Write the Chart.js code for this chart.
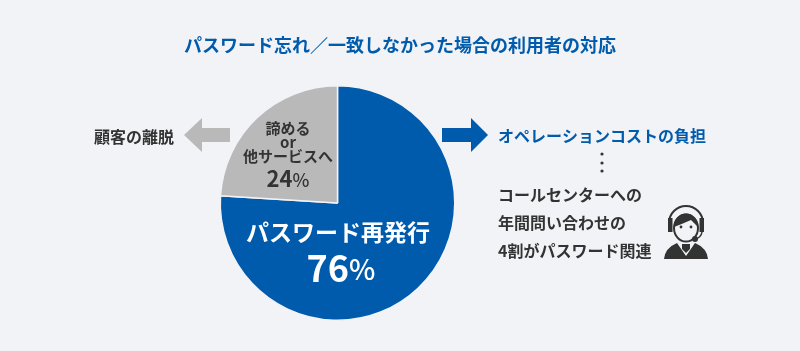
<!DOCTYPE html>
<html lang="ja">
<head>
<meta charset="utf-8">
<script src="https://cdn.jsdelivr.net/npm/chart.js@4/dist/chart.umd.min.js"></script>
<style>
html, body { margin: 0; padding: 0; background: #f1f3f6; }
#box { width: 800px; height: 351px; }
</style>
</head>
<body>
<div id="box"><canvas id="pieChart"></canvas></div>
<script>
const titleText = 'パスワード忘れ／一致しなかった場合の利用者の対応';
const categories = ['パスワード再発行', '諦める or 他サービスへ'];
const shares = [76, 24];
const sliceColors = ['#005bac', '#b9b9b9'];
const callCenterLines = ['コールセンターへの', '年間問い合わせの', '4割がパスワード関連'];

const BLUE = '#005bac', DARK = '#333333', GREY = '#b9b9b9', BG = '#f1f3f6';
const JP = '"Noto Sans CJK JP", "Noto Sans", sans-serif';

function label(ctx, text, x, y, size, color, align, weight) {
	ctx.font = (weight || 'bold') + ' ' + size + 'px ' + JP;
	ctx.fillStyle = color;
	ctx.textAlign = align || 'center';
	ctx.textBaseline = 'middle';
	ctx.fillText(text, x, y);
}

// 数字と%の大きさが違うラベル
function percent(ctx, value, x, y, numSize, pctSize, color) {
	ctx.font = 'bold ' + numSize + 'px ' + JP;
	const w1 = ctx.measureText(value).width;
	ctx.font = '500 ' + pctSize + 'px ' + JP;
	const w2 = ctx.measureText('%').width;
	const left = x - (w1 + w2) / 2;
	label(ctx, String(value), left, y, numSize, color, 'left');
	label(ctx, '%', left + w1, y + 1, pctSize, color, 'left', '500');
}

function arrow(ctx, tipX, baseX, endX, y, color) {
	ctx.fillStyle = color;
	ctx.beginPath();
	ctx.moveTo(tipX, y);
	ctx.lineTo(baseX, y - 17);
	ctx.lineTo(baseX, y - 7);
	ctx.lineTo(endX, y - 7);
	ctx.lineTo(endX, y + 7);
	ctx.lineTo(baseX, y + 7);
	ctx.lineTo(baseX, y + 17);
	ctx.closePath();
	ctx.fill();
}

function operator(ctx) {
	const cx = 686;
	ctx.fillStyle = DARK;
	ctx.strokeStyle = DARK;
	// ヘッドセット
	ctx.lineWidth = 2;
	ctx.beginPath();
	ctx.arc(cx, 223, 17, Math.PI, 0);
	ctx.stroke();
	ctx.fillRect(cx - 18, 218, 4.5, 14);
	ctx.fillRect(cx + 13.5, 218, 4.5, 14);
	ctx.lineWidth = 1.5;
	ctx.beginPath();
	ctx.moveTo(cx + 16, 232);
	ctx.quadraticCurveTo(cx + 15, 238, cx + 9, 239);
	ctx.stroke();
	ctx.beginPath();
	ctx.arc(cx + 9, 239, 3, 0, Math.PI * 2);
	ctx.fill();
	// 顔
	ctx.lineWidth = 2;
	ctx.beginPath();
	ctx.ellipse(cx, 228, 12, 13.5, 0, 0, Math.PI * 2);
	ctx.stroke();
	// 髪
	ctx.beginPath();
	ctx.moveTo(cx - 12, 227);
	ctx.bezierCurveTo(cx - 12, 209, cx + 12, 209, cx + 12, 227);
	ctx.quadraticCurveTo(cx + 8, 223, cx + 5, 220);
	ctx.quadraticCurveTo(cx - 4, 224, cx - 12, 227);
	ctx.fill();
	// 目
	[-5, 5].forEach(dx => {
		ctx.beginPath();
		ctx.arc(cx + dx, 227, 1.4, 0, Math.PI * 2);
		ctx.fill();
	});
	// 体
	ctx.beginPath();
	ctx.moveTo(cx - 22, 259);
	ctx.quadraticCurveTo(cx - 21, 248, cx - 9, 243);
	ctx.lineTo(cx, 256);
	ctx.lineTo(cx + 9, 243);
	ctx.quadraticCurveTo(cx + 21, 248, cx + 22, 259);
	ctx.closePath();
	ctx.fill();
	// ネクタイ
	ctx.beginPath();
	ctx.moveTo(cx - 4, 244);
	ctx.lineTo(cx + 4, 244);
	ctx.lineTo(cx + 4, 249);
	ctx.lineTo(cx, 253);
	ctx.lineTo(cx - 4, 249);
	ctx.closePath();
	ctx.fill();
}

const notes = {
	id: 'notes',
	afterDraw(chart) {
		const ctx = chart.ctx;
		ctx.save();
		label(ctx, titleText, 400, 45, 18, BLUE);
		// 円の中
		label(ctx, '諦める', 288, 128, 15, DARK);
		label(ctx, 'or', 288, 142, 15, DARK);
		label(ctx, '他サービスへ', 288, 156, 15, DARK);
		percent(ctx, shares[1], 288, 179, 22, 18, DARK);
		label(ctx, categories[0], 338, 232, 23, '#ffffff');
		percent(ctx, shares[0], 341, 268, 36, 28, '#ffffff');
		// 左側
		arrow(ctx, 184, 202, 230, 135, GREY);
		label(ctx, '顧客の離脱', 94, 137, 16, DARK, 'left');
		// 右側
		arrow(ctx, 488, 471, 442, 135, BLUE);
		label(ctx, 'オペレーションコストの負担', 498, 136, 16, BLUE, 'left');
		ctx.fillStyle = DARK;
		[154, 163, 171].forEach(y => {
			ctx.beginPath();
			ctx.arc(602, y, 1.6, 0, Math.PI * 2);
			ctx.fill();
		});
		callCenterLines.forEach((line, i) => {
			label(ctx, line, 498, 195 + i * 28, 16, DARK, 'left');
		});
		operator(ctx);
		ctx.restore();
	}
};

new Chart(document.getElementById('pieChart'), {
	type: 'pie',
	data: {
		labels: categories,
		datasets: [{
			data: shares,
			backgroundColor: sliceColors,
			borderColor: BG,
			borderWidth: 1.5
		}]
	},
	options: {
		responsive: true,
		maintainAspectRatio: false,
		animation: false,
		layout: { padding: { left: 219, right: 344, top: 85, bottom: 30 } },
		plugins: {
			legend: { display: false },
			tooltip: { enabled: false }
		}
	},
	plugins: [notes]
});
</script>
</body>
</html>
